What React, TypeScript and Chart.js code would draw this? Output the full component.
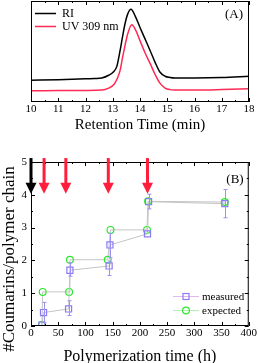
import React, { useEffect, useRef } from "react";
import { Chart, registerables } from "chart.js";
Chart.register(...registerables);

// ---------- Panel (A): GPC traces ----------
const retentionTime = [10, 11, 12, 12.35, 12.6, 12.85, 13.02, 13.15, 13.27, 13.36, 13.45, 13.55, 13.67, 13.82, 14.0, 14.18, 14.37, 14.55, 14.73, 14.92, 15.1, 15.28, 16, 17, 18];
const riSignal = [22, 22.5, 23.5, 23.7, 24.3, 27, 30.3, 36, 52, 66, 79, 89, 93.7, 87, 75.3, 64, 52, 40.3, 30.3, 26, 24.8, 24.3, 24.3, 24.7, 26];
const uvTime = [10, 11, 12, 12.6, 12.85, 13.05, 13.17, 13.27, 13.36, 13.45, 13.55, 13.7, 13.85, 14.0, 14.18, 14.37, 14.55, 14.73, 14.92, 15.1, 15.3, 16, 17, 18];
const uvSignal = [11.3, 11.5, 11.7, 12, 14, 18, 24, 32, 45, 57, 69, 78, 72, 62, 50, 39, 28, 19, 14, 12.5, 12.2, 12, 12.5, 13.3];
const seriesA = ["RI", "UV 309 nm"];

// ---------- Panel (B): coumarins per chain ----------
const measuredTime = [20, 23, 69, 71.5, 143.5, 145, 214, 216, 356];
const measuredValue = [0.03, 0.41, 0.52, 1.7, 1.83, 2.47, 2.81, 3.79, 3.73];
const measuredLow = [0.03, 0.1, 0.32, 1.52, 1.54, 2.08, 2.81, 3.57, 3.3];
const measuredHigh = [0.03, 0.72, 0.77, 1.93, 1.98, 2.82, 2.81, 4.02, 4.16];
const expectedTime = [20, 21.5, 70, 71.5, 141, 146, 213, 215, 356];
const expectedValue = [0.03, 1.04, 1.04, 2.02, 2.02, 2.93, 2.93, 3.8, 3.78];
const arrowTimes = [0, 24, 64, 142, 214];
const arrowTop = 5.12;
const arrowTip = 4.03;
const seriesB = ["measured", "expected"];

const SERIF = "'Liberation Serif', 'DejaVu Serif', serif";

function line(ctx: CanvasRenderingContext2D, x1: number, y1: number, x2: number, y2: number) {
  ctx.beginPath();
  ctx.moveTo(x1, y1);
  ctx.lineTo(x2, y2);
  ctx.stroke();
}

const framePlugin = {
  id: "frame",
  afterDraw(chart: any, _a: any, opts: any) {
    const { ctx, chartArea: a, scales } = chart;
    ctx.save();
    ctx.strokeStyle = "#000";
    ctx.lineWidth = 1;
    ctx.strokeRect(a.left + 0.5, a.top + 0.5, a.right - a.left - 1, a.bottom - a.top - 1);
    const isMajor = (v: number, m: number) => Math.abs(v / m - Math.round(v / m)) < 1e-6;
    if (opts.xMinor) {
      const xs = scales.x;
      for (let v = xs.min; v <= xs.max + 1e-9; v += opts.xMinor) {
        const px = Math.round(xs.getPixelForValue(v)) + 0.5;
        const len = isMajor(v, opts.xMajor) ? 4 : 2;
        line(ctx, px, a.bottom, px, a.bottom - len);
        line(ctx, px, a.top, px, a.top + len);
      }
    }
    if (opts.yMinor) {
      const ys = scales.y;
      for (let v = ys.min; v <= ys.max + 1e-9; v += opts.yMinor) {
        const py = Math.round(ys.getPixelForValue(v)) + 0.5;
        const len = isMajor(v, opts.yMajor) ? 4 : 2;
        line(ctx, a.left, py, a.left + len, py);
        line(ctx, a.right, py, a.right - len, py);
      }
    }
    ctx.restore();
  },
};

const legendAPlugin = {
  id: "legendA",
  afterDraw(chart: any) {
    const { ctx } = chart;
    ctx.save();
    const cols = ["#000000", "#ff2a55"];
    const ys = [13.5, 26.5];
    ctx.font = `12px ${SERIF}`;
    ctx.textBaseline = "middle";
    ctx.fillStyle = "#000";
    seriesA.forEach((name, i) => {
      ctx.strokeStyle = cols[i];
      ctx.lineWidth = 1.5;
      line(ctx, 35, ys[i], 56, ys[i]);
      ctx.fillText(name, 62, ys[i] + 0.5);
    });
    ctx.font = `13px ${SERIF}`;
    ctx.textAlign = "center";
    ctx.fillText("(A)", 234, 15);
    ctx.restore();
  },
};

const extrasBPlugin = {
  id: "extrasB",
  afterDatasetsDraw(chart: any) {
    const { ctx, scales } = chart;
    const xs = scales.x, ys = scales.y;
    ctx.save();
    ctx.strokeStyle = "#9d90f5";
    ctx.lineWidth = 1;
    measuredTime.forEach((t, i) => {
      if (measuredHigh[i] - measuredLow[i] < 0.01) return;
      const px = Math.round(xs.getPixelForValue(t)) + 0.5;
      const top = ys.getPixelForValue(measuredHigh[i]);
      const bot = ys.getPixelForValue(measuredLow[i]);
      line(ctx, px, top, px, bot);
      line(ctx, px - 2, top, px + 2, top);
      line(ctx, px - 2, bot, px + 2, bot);
    });
    ctx.restore();
  },
  afterDraw(chart: any) {
    const { ctx, scales } = chart;
    const xs = scales.x, ys = scales.y;
    ctx.save();
    // arrows
    arrowTimes.forEach((t, i) => {
      const px = xs.getPixelForValue(t);
      const y0 = ys.getPixelForValue(arrowTop);
      const y1 = ys.getPixelForValue(arrowTip);
      const col = i === 0 ? "#000000" : "#ff1f3d";
      ctx.fillStyle = col;
      const head = 11;
      ctx.fillRect(px - 1.5, y0, 3, y1 - y0 - head + 1);
      ctx.beginPath();
      ctx.moveTo(px - 5.5, y1 - head);
      ctx.lineTo(px + 5.5, y1 - head);
      ctx.lineTo(px, y1);
      ctx.closePath();
      ctx.fill();
    });
    // legend
    const lcols = ["#e6b6ee", "#b4eeb4"];
    const mcols = ["#8b7cf6", "#2ee82e"];
    const ly = [166.5, 180.5];
    ctx.font = `11px ${SERIF}`;
    ctx.textBaseline = "middle";
    seriesB.forEach((name, i) => {
      ctx.strokeStyle = lcols[i];
      ctx.lineWidth = 1;
      line(ctx, 173, ly[i], 199, ly[i]);
      ctx.strokeStyle = mcols[i];
      ctx.lineWidth = 1.2;
      if (i === 0) ctx.strokeRect(183, ly[i] - 3, 6, 6);
      else {
        ctx.beginPath();
        ctx.arc(186, ly[i], 3.4, 0, Math.PI * 2);
        ctx.stroke();
      }
      ctx.fillStyle = "#000";
      ctx.fillText(name, 202, ly[i] + 0.5);
    });
    ctx.font = `13px ${SERIF}`;
    ctx.textAlign = "center";
    ctx.fillText("(B)", 235, 50);
    // y title
    ctx.translate(10, 129);
    ctx.rotate(-Math.PI / 2);
    ctx.font = `17px ${SERIF}`;
    ctx.fillText("#Coumarins/polymer chain", 0, 0);
    ctx.restore();
  },
};

function PanelA() {
  const ref = useRef<HTMLCanvasElement>(null);
  useEffect(() => {
    const chart = new Chart(ref.current!, {
      type: "line",
      data: {
        datasets: [
          {
            label: seriesA[0],
            data: retentionTime.map((t, i) => ({ x: t, y: riSignal[i] })),
            borderColor: "#000000",
            borderWidth: 1.5,
            pointRadius: 0,
            cubicInterpolationMode: "monotone",
          },
          {
            label: seriesA[1],
            data: uvTime.map((t, i) => ({ x: t, y: uvSignal[i] })),
            borderColor: "#ff2a55",
            borderWidth: 1.5,
            pointRadius: 0,
            cubicInterpolationMode: "monotone",
          },
        ],
      },
      options: {
        animation: false,
        responsive: false,
        layout: { padding: { left: 31, right: 9, top: 1, bottom: 0 } },
        plugins: { legend: { display: false }, tooltip: { enabled: false }, frame: { xMajor: 1, xMinor: 0.5 } } as any,
        scales: {
          x: {
            type: "linear",
            min: 10,
            max: 18,
            grid: { display: false, drawTicks: false },
            border: { display: false },
            ticks: { stepSize: 1, color: "#000", font: { family: SERIF, size: 11 }, padding: 1 },
            title: { display: true, text: "Retention Time (min)", color: "#000", font: { family: SERIF, size: 15 }, padding: { top: 0, bottom: 2 } },
            afterFit: (s: any) => { s.height = 34; },
          },
          y: { display: false, min: 0, max: 102 },
        },
      },
      plugins: [framePlugin, legendAPlugin],
    } as any);
    return () => chart.destroy();
  }, []);
  return <canvas ref={ref} width={258} height={136} style={{ position: "absolute", left: 0, top: 0, width: 258, height: 136 }} />;
}

function PanelB() {
  const ref = useRef<HTMLCanvasElement>(null);
  useEffect(() => {
    const chart = new Chart(ref.current!, {
      type: "line",
      data: {
        datasets: [
          {
            label: seriesB[0],
            data: measuredTime.map((t, i) => ({ x: t, y: measuredValue[i] })),
            borderColor: "#c4c4c4",
            borderWidth: 1,
            pointStyle: "rect",
            pointRadius: 4.3,
            pointBorderWidth: 1.2,
            pointBorderColor: "#8b7cf6",
            pointBackgroundColor: "rgba(0,0,0,0)",
          },
          {
            label: seriesB[1],
            data: expectedTime.map((t, i) => ({ x: t, y: expectedValue[i] })),
            borderColor: "#c4c4c4",
            borderWidth: 1,
            pointStyle: "circle",
            pointRadius: 3.4,
            pointBorderWidth: 1.2,
            pointBorderColor: "#2ee82e",
            pointBackgroundColor: "rgba(0,0,0,0)",
          },
        ],
      },
      options: {
        animation: false,
        responsive: false,
        layout: { padding: { left: 0, right: 9, top: 32, bottom: 0 } },
        plugins: { legend: { display: false }, tooltip: { enabled: false }, frame: { xMajor: 50, xMinor: 25, yMajor: 1, yMinor: 0.5 } } as any,
        scales: {
          x: {
            type: "linear",
            min: 0,
            max: 400,
            grid: { display: false, drawTicks: false },
            border: { display: false },
            ticks: { stepSize: 50, color: "#000", font: { family: SERIF, size: 11 }, padding: 1 },
            title: { display: true, text: "Polymerization time (h)", color: "#000", font: { family: SERIF, size: 16 }, padding: { top: 0, bottom: 3.4 } },
            afterFit: (s: any) => { s.height = 44; },
          },
          y: {
            type: "linear",
            min: 0,
            max: 5,
            grid: { display: false, drawTicks: false },
            border: { display: false },
            ticks: { stepSize: 1, color: "#000", font: { family: SERIF, size: 11 }, padding: 4 },
            afterFit: (s: any) => { s.width = 31; },
          },
        },
      },
      plugins: [framePlugin, extrasBPlugin],
    } as any);
    return () => chart.destroy();
  }, []);
  return <canvas ref={ref} width={258} height={240} style={{ position: "absolute", left: 0, top: 130, width: 258, height: 240 }} />;
}

export default function App() {
  return (
    <div style={{ position: "fixed", left: 0, top: 0, width: 258, height: 363, overflow: "hidden", background: "#fff" }}>
      <PanelA />
      <PanelB />
    </div>
  );
}
